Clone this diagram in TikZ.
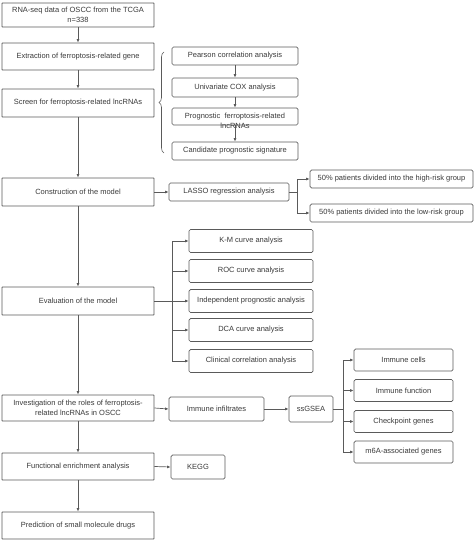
\documentclass[tikz,border=0pt]{standalone}
\usepackage{fontspec}
\setmainfont{Liberation Sans}
\usetikzlibrary{arrows.meta,decorations.pathreplacing}
\definecolor{linec}{HTML}{5A5A5A}
\definecolor{textc}{HTML}{3A3A3A}
\begin{document}
\begin{tikzpicture}[x=1pt,y=-1pt,
  every node/.style={font=\fontsize{7.5}{10}\selectfont, text=textc, inner sep=0pt, align=center},
  mainbox/.style={draw=linec, line width=0.9pt, fill=white, minimum width=152, rounded corners=0.5pt},
  subbox/.style={draw=linec, line width=0.7pt, fill=white, rounded corners=1.5pt},
  txt/.style={},
  conn/.style={draw=linec, line width=0.7pt},
  arr/.style={conn, -{Latex[length=3.5pt,width=3pt]}}
]
\useasboundingbox (0,0) rectangle (474,540);
% main column
\node[mainbox, minimum height=24] (b1) at (78,15) {RNA-seq data of OSCC from the TCGA\\n=338};
\node[mainbox, minimum height=27] (b2) at (78,56.5) {Extraction of ferroptosis-related gene};
\node[mainbox, minimum height=28] (b3) at (78,103) {Screen for ferroptosis-related lncRNAs};
\node[mainbox, minimum height=28] (b4) at (78,192) {Construction of the model};
\node[mainbox, minimum height=28] (b5) at (78,301) {Evaluation of the model};
\node[mainbox, minimum height=26] (b6) at (78,408) {Investigation of the roles of ferroptosis-\\related lncRNAs in OSCC};
\node[mainbox, minimum height=27] (b7) at (78,466.5) {Functional enrichment analysis};
\node[mainbox, minimum height=27] (b8) at (78,525.5) {Prediction of small molecule drugs};
\draw[arr] (b1) -- (b2);
\draw[arr] (b2) -- (b3);
\draw[arr] (b3) -- (b4);
\draw[arr] (b4) -- (b5);
\draw[arr] (b5) -- (b6);
\draw[arr] (b6) -- (b7);
\draw[arr] (b7) -- (b8);
% lncRNA screening column
\node[subbox, minimum width=126, minimum height=18] (pear) at (235,56) {Pearson correlation analysis};
\node[subbox, minimum width=126, minimum height=19] (univ) at (235,87.5) {Univariate COX analysis};
\node[subbox, minimum width=126, minimum height=17] (prog) at (235,116.5) {};
\node[subbox, minimum width=126, minimum height=18] (cand) at (235,151) {Candidate prognostic signature};
\draw[arr] (pear) -- (univ);
\draw[arr] (univ) -- (prog);
\draw[arr] (prog) -- (cand);
\node[txt] (progt) at (235,120.5) {Prognostic\ \ ferroptosis-related\\lncRNAs};
\coordinate (brb) at (164,153);
\coordinate (brt) at (164,52);
\draw[conn, line width=0.6pt, decorate, decoration={brace, amplitude=5pt}] (brb) -- (brt);
% model construction
\node[subbox, minimum width=120, minimum height=18] (lasso) at (229,192) {LASSO regression analysis};
\node[subbox, minimum width=163, minimum height=18] (high) at (391.5,179) {50\% patients divided into the high-risk group};
\node[subbox, minimum width=163, minimum height=18] (low) at (391.5,213) {50\% patients divided into the low-risk group};
\draw[arr] (b4) -- (lasso);
\draw[conn] (lasso.east) -- (297,192) coordinate (j1);
\draw[arr] (j1) |- (high.west);
\draw[arr] (j1) |- (low.west);
% evaluation
\node[subbox, minimum width=124, minimum height=23] (km) at (251,241) {K-M curve analysis};
\node[subbox, minimum width=124, minimum height=23] (roc) at (251,271) {ROC curve analysis};
\node[subbox, minimum width=124, minimum height=23] (ind) at (251,301) {Independent prognostic analysis};
\node[subbox, minimum width=124, minimum height=23] (dca) at (251,330) {DCA curve analysis};
\node[subbox, minimum width=124, minimum height=23] (cli) at (251,361) {Clinical correlation analysis};
\draw[conn] (b5.east) -- (172,301) coordinate (j2);
\draw[arr] (j2) |- (km.west);
\draw[arr] (j2) |- (roc.west);
\draw[arr] (j2) -- (ind.west);
\draw[arr] (j2) |- (dca.west);
\draw[arr] (j2) |- (cli.west);
% immune
\node[subbox, minimum width=95, minimum height=24] (inf) at (216.5,409) {Immune infiltrates};
\node[subbox, minimum width=44, minimum height=26] (ss) at (311,409) {ssGSEA};
\node[subbox, minimum width=99, minimum height=22] (cells) at (403.5,360) {Immune cells};
\node[subbox, minimum width=99, minimum height=22] (func) at (403.5,390.5) {Immune function};
\node[subbox, minimum width=99, minimum height=22] (chk) at (403.5,421.5) {Checkpoint genes};
\node[subbox, minimum width=99, minimum height=22] (m6a) at (403.5,452) {m6A-associated genes};
\draw[arr] (b6.east) -- (inf.west);
\draw[arr] (inf) -- (ss);
\draw[conn] (ss.east) -- (343,409) coordinate (j3);
\draw[arr] (j3) |- (cells.west);
\draw[arr] (j3) |- (func.west);
\draw[arr] (j3) |- (chk.west);
\draw[arr] (j3) |- (m6a.west);
% enrichment
\node[subbox, minimum width=54, minimum height=24] (kegg) at (198,467) {KEGG};
\draw[arr] (b7.east) -- (kegg.west);
\end{tikzpicture}
\end{document}
